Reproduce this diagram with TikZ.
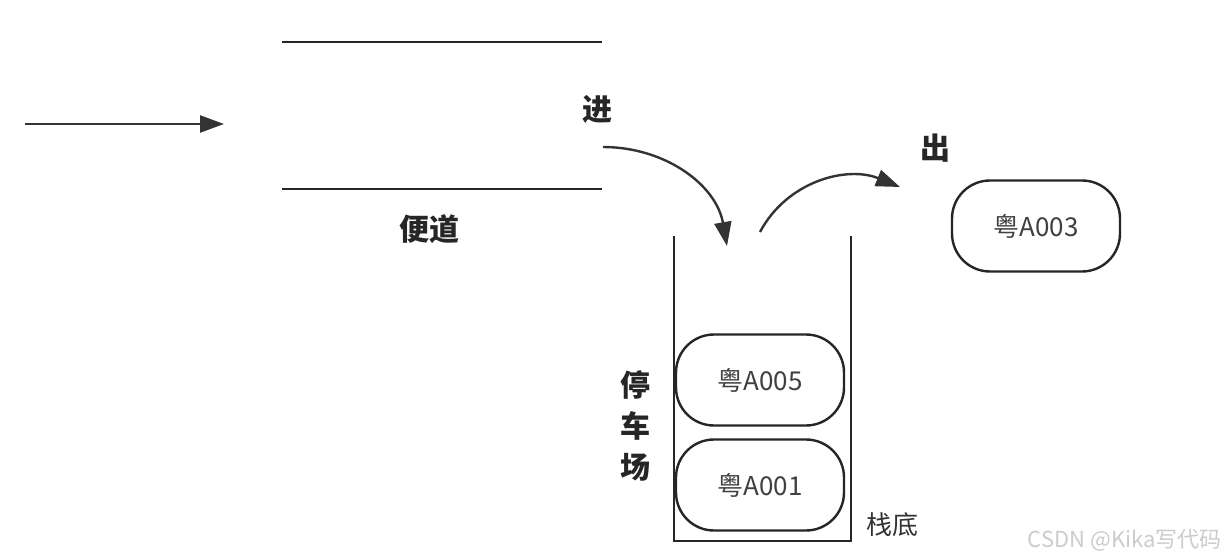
\documentclass[tikz,border=0pt]{standalone}
\usepackage{fontspec}
\setmainfont{Noto Sans CJK SC}
\usetikzlibrary{arrows.meta}

\begin{document}
\begin{tikzpicture}[
  x=1pt, y=-1pt,
  wall/.style={line width=2.4pt, draw=black!85},
  arr/.style={-{Triangle[length=24pt,width=17pt]}, line width=2.4pt, draw=black!80},
  car/.style={draw=black!85, line width=2.4pt, rounded corners=38pt,
              minimum width=168pt, minimum height=91pt, inner sep=0pt,
              font=\fontsize{26}{28}\selectfont, text=black!75},
  tag/.style={font=\fontsize{30}{32}\selectfont\bfseries, text=black!85, inner sep=0pt},
  note/.style={font=\fontsize{26}{28}\selectfont, text=black!80, inner sep=0pt},
]
  \useasboundingbox[fill=white] (0,0) rectangle (1226,559);

  %% ── Side road (便道) ──
  \draw[wall] (282,42) -- (602,42);
  \draw[wall] (282,189) -- (602,189);
  \node[tag] (road) at (429,229) {便道};

  \coordinate (src) at (25,124);
  \coordinate (dst) at (224,124);
  \draw[arr] (src) -- (dst);

  %% ── Parking lot (stack) ──
  \coordinate (sl) at (674,236);
  \coordinate (sr) at (851,236);
  \draw[wall] (sl) -- (674,541) -- (851,541) -- (sr);

  \node[car] (c5) at (760,380) {粤A005};
  \node[car] (c1) at (760,485) {粤A001};
  \node[tag, align=center, font=\fontsize{30}{41}\selectfont\bfseries]
    (lot) at (635,426) {停\\车\\场};
  \node[note] (base) at (892,525) {栈底};

  %% ── Car that left ──
  \node[car] (c3) at (1036,226) {粤A003};

  %% ── In / out arrows ──
  \node[tag] (in)  at (597,109) {进};
  \node[tag] (out) at (935,148) {出};

  \coordinate (inA) at (603,147);
  \coordinate (inB) at (727,246);
  \draw[arr] (inA) to[out=0, in=100] (inB);

  \coordinate (outA) at (760,232);
  \coordinate (outB) at (900,187);
  \draw[arr] (outA) to[out=62, in=158] (outB);

  %% ── Watermark ──
  \node[font=\fontsize{22}{24}\selectfont, text=black!20, anchor=east, inner sep=0pt]
    (wm) at (1222,540) {CSDN @Kika写代码};
\end{tikzpicture}
\end{document}
